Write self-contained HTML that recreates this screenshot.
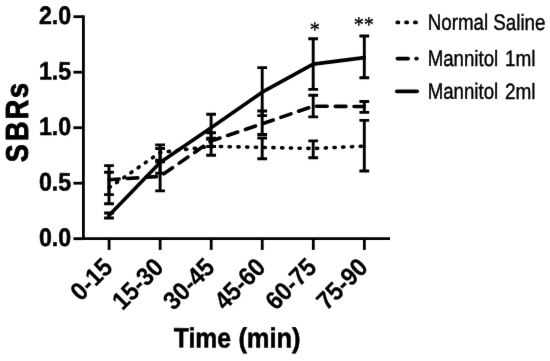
<!DOCTYPE html>
<html><head><meta charset="utf-8"><title>SBRs</title>
<style>
html,body{margin:0;padding:0;background:#fff;}
body{width:550px;height:361px;overflow:hidden;}
svg{display:block;}
text{font-family:"Liberation Sans",Arial,sans-serif;fill:#000;}
.b{font-weight:bold;stroke:#000;stroke-width:0.5px;stroke-linejoin:round;}
.r{stroke:#000;stroke-width:0.35px;}
.ast{stroke:#000;stroke-width:0.3px;font-family:"Liberation Serif","Times New Roman",serif;}
</style></head><body>
<svg width="550" height="361" viewBox="0 0 550 361">
<rect width="550" height="361" fill="#fff"/>
<defs><filter id="soft" x="0" y="0" width="550" height="361" filterUnits="userSpaceOnUse"><feConvolveMatrix order="3" kernelMatrix="0.0036 0.0528 0.0036 0.0528 0.7744 0.0528 0.0036 0.0528 0.0036" divisor="1" edgeMode="duplicate" preserveAlpha="false"/></filter></defs>
<g filter="url(#soft)">

<g stroke="#000" stroke-width="2.8" fill="none" stroke-linecap="butt">
<path d="M83.4 15.4 V240"/>
<path d="M82.1 238.7 H390"/>
<path d="M73.4 183.2 H83.4"/>
<path d="M73.4 127.7 H83.4"/>
<path d="M73.4 72.2 H83.4"/>
<path d="M73.4 16.7 H83.4"/>
<path d="M73.4 238.7 H83.4"/>
<path d="M109.10 238.7 V249.9"/>
<path d="M160.15 238.7 V249.9"/>
<path d="M211.20 238.7 V249.9"/>
<path d="M262.25 238.7 V249.9"/>
<path d="M313.30 238.7 V249.9"/>
<path d="M364.35 238.7 V249.9"/>
</g>
<g stroke="#000" stroke-width="2.9" fill="none">
<path d="M109.0 172.3 V203.7 M104.1 172.3 H113.9 M104.1 203.7 H113.9"/>
<path d="M109.0 165.6 V194.6 M104.1 165.6 H113.9 M104.1 194.6 H113.9"/>
<path d="M109.0 213.0 V218.0 M104.1 213.0 H113.9 M104.1 218.0 H113.9"/>
<path d="M160.1 148.5 V173.2 M155.2 148.5 H165.0 M155.2 173.2 H165.0"/>
<path d="M160.1 144.9 V160.1 M155.2 144.9 H165.0 M155.2 160.1 H165.0"/>
<path d="M160.1 161.9 V190.9 M155.2 161.9 H165.0 M155.2 190.9 H165.0"/>
<path d="M211.1 114.2 V139.4 M206.2 114.2 H216.0 M206.2 139.4 H216.0"/>
<path d="M211.1 132.8 V146.5 M206.2 132.8 H216.0 M206.2 146.5 H216.0"/>
<path d="M211.1 138.2 V155.3 M206.2 138.2 H216.0 M206.2 155.3 H216.0"/>
<path d="M262.2 67.6 V115.6 M257.3 67.6 H267.1 M257.3 115.6 H267.1"/>
<path d="M262.2 111.0 V134.5 M257.3 111.0 H267.1 M257.3 134.5 H267.1"/>
<path d="M262.2 138.0 V158.7 M257.3 138.0 H267.1 M257.3 158.7 H267.1"/>
<path d="M313.2 38.8 V89.4 M308.3 38.8 H318.1 M308.3 89.4 H318.1"/>
<path d="M313.2 95.2 V116.9 M308.3 95.2 H318.1 M308.3 116.9 H318.1"/>
<path d="M313.2 140.9 V157.7 M308.3 140.9 H318.1 M308.3 157.7 H318.1"/>
<path d="M364.3 36.0 V77.8 M359.4 36.0 H369.2 M359.4 77.8 H369.2"/>
<path d="M364.3 101.5 V112.4 M359.4 101.5 H369.2 M359.4 112.4 H369.2"/>
<path d="M364.3 120.4 V171.0 M359.4 120.4 H369.2 M359.4 171.0 H369.2"/>
</g>
<g stroke="#000" stroke-width="3.6" fill="none" stroke-linejoin="round">
<polyline points="109.0,187.8 160.1,152.5 211.1,146.3 262.2,147.4 313.2,148.5 364.3,146.1" stroke-linecap="round" stroke-dasharray="1.2 7.54" stroke-dashoffset="-0.44" stroke-width="3.6"/>
<polyline points="109.0,179.7 160.1,176.4 211.1,141.0 262.2,123.8 313.2,106.2 364.3,106.5" stroke-linecap="round" stroke-dasharray="10.7 8.05" stroke-dashoffset="0.55"/>
<polyline points="109.0,215.6 160.1,162.4 211.1,127.7 262.2,92.2 313.2,64.1 364.3,57.6" stroke-linecap="round"/>
<path d="M397.25 22.4 H419" stroke-linecap="round" stroke-dasharray="1.2 7.6" stroke-width="3.7"/>
<path d="M397.4 58.6 H408.2 M416.1 58.6 H416.9" stroke-linecap="round" stroke-width="3.7"/>
<path d="M396.8 91.3 H417.2" stroke-linecap="round" stroke-width="3.7"/>
</g>
<text class="b" font-size="23.2" text-anchor="end" transform="translate(71.2,246.00) rotate(0.1) scale(1,1.09)">0.0</text>
<text class="b" font-size="23.2" text-anchor="end" transform="translate(71.2,190.50) rotate(0.1) scale(1,1.09)">0.5</text>
<text class="b" font-size="23.2" text-anchor="end" transform="translate(71.2,135.00) rotate(0.1) scale(1,1.09)">1.0</text>
<text class="b" font-size="23.2" text-anchor="end" transform="translate(71.2,79.50) rotate(0.1) scale(1,1.09)">1.5</text>
<text class="b" font-size="23.2" text-anchor="end" transform="translate(71.2,24.00) rotate(0.1) scale(1,1.09)">2.0</text>
<text class="b" style="stroke-width:0.2px" font-size="23.5" text-anchor="end" transform="translate(113.9,268.8) rotate(-45) scale(1,1.08)">0-15</text>
<text class="b" style="stroke-width:0.2px" font-size="23.5" text-anchor="end" transform="translate(165.0,268.8) rotate(-45) scale(1,1.08)">15-30</text>
<text class="b" style="stroke-width:0.2px" font-size="23.5" text-anchor="end" transform="translate(216.0,268.8) rotate(-45) scale(1,1.08)">30-45</text>
<text class="b" style="stroke-width:0.2px" font-size="23.5" text-anchor="end" transform="translate(267.1,268.8) rotate(-45) scale(1,1.08)">45-60</text>
<text class="b" style="stroke-width:0.2px" font-size="23.5" text-anchor="end" transform="translate(318.1,268.8) rotate(-45) scale(1,1.08)">60-75</text>
<text class="b" style="stroke-width:0.2px" font-size="23.5" text-anchor="end" transform="translate(369.2,268.8) rotate(-45) scale(1,1.08)">75-90</text>
<text class="b" font-size="25.25" transform="translate(173.8,347.35) rotate(0.1) scale(1,1.10)"><tspan textLength="57.2" lengthAdjust="spacingAndGlyphs">Time</tspan> <tspan x="64.6" textLength="62.2" lengthAdjust="spacingAndGlyphs">(min)</tspan></text>
<text class="b" style="stroke-width:0.8px" font-size="27" x="0 21.2 43 64.4" transform="translate(27.9,162.3) rotate(-90) scale(1,1.135)">SBRs</text>
<text class="r" font-size="18.8" transform="translate(427.7,29.75) rotate(0.1) scale(1,1.18)" textLength="117.7" lengthAdjust="spacingAndGlyphs">Normal Saline</text>
<text class="r" font-size="18.8" transform="translate(427.7,65.85) rotate(0.1) scale(1,1.18)"><tspan textLength="70.5" lengthAdjust="spacingAndGlyphs">Mannitol</tspan> <tspan x="77.2" textLength="30.6" lengthAdjust="spacingAndGlyphs">1ml</tspan></text>
<text class="r" font-size="18.8" transform="translate(427.7,98.75) rotate(0.1) scale(1,1.18)"><tspan textLength="70.5" lengthAdjust="spacingAndGlyphs">Mannitol</tspan> <tspan x="77.2" textLength="30.6" lengthAdjust="spacingAndGlyphs">2ml</tspan></text>
<text class="ast" font-size="20" text-anchor="middle" transform="translate(314.7,36.9) rotate(0.1) scale(1,1.12)">*</text>
<text class="ast" font-size="20" text-anchor="middle" transform="translate(363.8,32.1) rotate(0.1) scale(1,1.12)">**</text>
</g></svg></body></html>
